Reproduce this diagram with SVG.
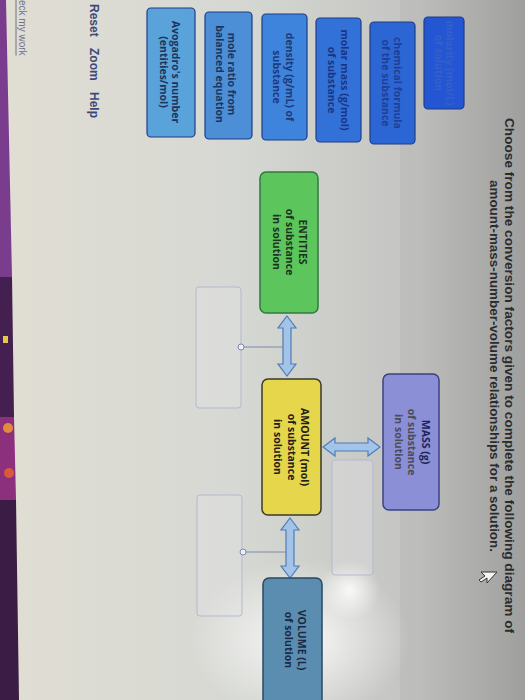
<svg xmlns="http://www.w3.org/2000/svg" width="525" height="700" viewBox="0 0 525 700">
<defs>
<linearGradient id="bg" x1="0" y1="0" x2="1" y2="0">
<stop offset="0" stop-color="#e1ded3"/>
<stop offset="0.45" stop-color="#d6d8d3"/>
<stop offset="0.8" stop-color="#c3c4c1"/>
<stop offset="1" stop-color="#a0a19f"/>
</linearGradient>
<radialGradient id="glare" cx="0.5" cy="0.5" r="0.5">
<stop offset="0" stop-color="#ffffff" stop-opacity="0.85"/>
<stop offset="1" stop-color="#ffffff" stop-opacity="0"/>
</radialGradient>
<style>
.ui{font-family:"Liberation Sans",Arial,sans-serif}
.title{font-family:"Liberation Sans",Arial,sans-serif;font-weight:700;font-size:12.5px;fill:#2a2c30}
.fac rect{stroke:#1f3c86;stroke-width:1.2}
.fac text{font-family:"Open Sans","Liberation Sans",sans-serif;font-weight:700;font-size:10.5px;text-anchor:middle;dominant-baseline:central}
.node text{font-family:"Open Sans","Liberation Sans",sans-serif;font-weight:700;font-size:10.5px;text-anchor:middle;dominant-baseline:central}
.node rect{stroke-width:1.5}
.drop{fill:#e4e6e8;fill-opacity:0.3;stroke:#b3b9cf;stroke-width:1}
.arrow{fill:#a3c4e8;stroke:#4f7db6;stroke-width:1.2}
.conn{stroke:#7d89ad;stroke-width:1;fill:none}
.dot{fill:#eef0f4;stroke:#7d89ad;stroke-width:1}
</style>
</defs>
<rect width="525" height="700" fill="url(#bg)"/>
<rect x="400" y="0" width="125" height="700" fill="#9a9b99" opacity="0.15"/>
<ellipse cx="300" cy="640" rx="110" ry="80" fill="url(#glare)"/>
<ellipse cx="350" cy="590" rx="30" ry="30" fill="url(#glare)"/>

<!-- left purple edge -->
<g id="edge">
<polygon points="0,0 6,0 12,277 0,277" fill="#7a3c8c"/>
<polygon points="0,277 12,277 14,417 0,417" fill="#43204f"/>
<rect x="3" y="336" width="5" height="7" fill="#e8c84a"/>
<polygon points="0,417 14,417 16,500 0,500" fill="#8c2f7c"/>
<circle cx="8" cy="428" r="5" fill="#e38a3c"/>
<circle cx="9" cy="473" r="5" fill="#d95a3a"/>
<polygon points="0,500 16,500 19,700 0,700" fill="#3a1c44"/>
</g>

<g id="toolbar" class="ui">
<text transform="translate(22,0) rotate(90)" font-size="10" fill="#6b7290" text-decoration="underline" dominant-baseline="central">eck my work</text>
<text transform="translate(94,4) rotate(90)" font-size="12" font-weight="700" fill="#3b4a7c" dominant-baseline="central">Reset</text>
<text transform="translate(94,48) rotate(90)" font-size="12" font-weight="700" fill="#3b4a7c" dominant-baseline="central">Zoom</text>
<text transform="translate(94,92) rotate(90)" font-size="12" font-weight="700" fill="#3b4a7c" dominant-baseline="central">Help</text>
</g>

<g id="title">
<text class="title" transform="translate(509,118) rotate(90)" dominant-baseline="central" textLength="515" lengthAdjust="spacingAndGlyphs">Choose from the conversion factors given to complete the following diagram of</text>
<text class="title" transform="translate(494,180) rotate(90)" dominant-baseline="central" textLength="372" lengthAdjust="spacingAndGlyphs">amount-mass-number-volume relationships for a solution.</text>
<polygon points="497,572 481,572 485,576 479,580 481,582 487,578 487,583" fill="#f4f4f4" stroke="#333" stroke-width="1"/>
</g>

<!-- conversion factor tiles -->
<g id="f-molarity" class="fac">
<rect x="424" y="17" width="40" height="92" rx="4" fill="#2456d4"/>
<text transform="translate(450,63) rotate(90)" fill="#3460c8">molarity (mol/L)</text>
<text transform="translate(439,63) rotate(90)" fill="#3460c8">of solution</text>
</g>
<g id="f-formula" class="fac">
<rect x="370" y="22" width="45" height="122" rx="4" fill="#2c66d4"/>
<text transform="translate(398,83) rotate(90)" fill="#1f3f98">chemical formula</text>
<text transform="translate(386,83) rotate(90)" fill="#1f3f98">of the substance</text>
</g>
<g id="f-molarmass" class="fac">
<rect x="316" y="18" width="45" height="124" rx="4" fill="#3272d8"/>
<text transform="translate(345,80) rotate(90)" fill="#1b3584">molar mass (g/mol)</text>
<text transform="translate(332,80) rotate(90)" fill="#1b3584">of substance</text>
</g>
<g id="f-density" class="fac">
<rect x="262" y="14" width="45" height="126" rx="4" fill="#3e84dc"/>
<text transform="translate(290,77) rotate(90)" fill="#1d3a7a" font-size="12">density (g/mL) of</text>
<text transform="translate(277,77) rotate(90)" fill="#1d3a7a" font-size="12">substance</text>
</g>
<g id="f-moleratio" class="fac">
<rect x="205" y="12" width="47" height="127" rx="4" fill="#4c8fd6"/>
<text transform="translate(232,74) rotate(90)" fill="#1d3460">mole ratio from</text>
<text transform="translate(220,74) rotate(90)" fill="#1d3460">balanced equation</text>
</g>
<g id="f-avogadro" class="fac">
<rect x="147" y="8" width="48" height="129" rx="4" fill="#5aa2da"/>
<text transform="translate(176,72) rotate(90)" fill="#1d3460">Avogadro's number</text>
<text transform="translate(164,72) rotate(90)" fill="#1d3460">(entities/mol)</text>
</g>

<!-- drop targets -->
<g id="drop-1"><rect class="drop" x="196" y="287" width="45" height="121" rx="3"/></g>
<g id="drop-2"><rect class="drop" x="197" y="495" width="45" height="121" rx="3"/></g>
<g id="drop-3"><rect class="drop" x="332" y="460" width="41" height="115" rx="3"/></g>

<!-- connectors -->
<g id="connectors">
<path class="arrow" d="M287,316 L296,328 L291,328 L291,364 L296,364 L287,376 L278,364 L283,364 L283,328 L278,328 Z"/>
<path class="arrow" d="M290,518 L299,530 L294,530 L294,566 L299,566 L290,578 L281,566 L286,566 L286,530 L281,530 Z"/>
<path class="arrow" d="M323,447 L335,438 L335,443 L368,443 L368,438 L380,447 L368,456 L368,451 L335,451 L335,456 Z"/>
<line class="conn" x1="244" y1="347" x2="283" y2="347"/>
<circle class="dot" cx="241" cy="347" r="3"/>
<line class="conn" x1="246" y1="552" x2="286" y2="552"/>
<circle class="dot" cx="243" cy="552" r="3"/>
</g>

<!-- main nodes -->
<g id="entities" class="node">
<rect x="260" y="172" width="58" height="141" rx="6" fill="#5cc65c" stroke="#2f7a40"/>
<text transform="translate(303,242) rotate(90)" fill="#1b3320">ENTITIES</text>
<text transform="translate(290,242) rotate(90)" fill="#1b3320">of substance</text>
<text transform="translate(277,242) rotate(90)" fill="#1b3320">in solution</text>
</g>
<g id="amount" class="node">
<rect x="262" y="379" width="59" height="136" rx="6" fill="#e6d64c" stroke="#3b3a28"/>
<text transform="translate(305,447) rotate(90)" fill="#222014">AMOUNT (mol)</text>
<text transform="translate(292,447) rotate(90)" fill="#222014">of substance</text>
<text transform="translate(278,447) rotate(90)" fill="#222014">in solution</text>
</g>
<g id="mass" class="node">
<rect x="383" y="374" width="56" height="136" rx="6" fill="#8a8fd6" stroke="#3b4282"/>
<text transform="translate(426,442) rotate(90)" fill="#1e2456">MASS (g)</text>
<text transform="translate(412,442) rotate(90)" fill="#4a4c58">of substance</text>
<text transform="translate(399,442) rotate(90)" fill="#4a4c58">in solution</text>
</g>
<g id="volume" class="node">
<rect x="263" y="578" width="59" height="140" rx="6" fill="#5b8db0" stroke="#2b4a62"/>
<text transform="translate(302,640) rotate(90)" fill="#1a2a44">VOLUME (L)</text>
<text transform="translate(289,640) rotate(90)" fill="#1a2a44">of solution</text>
</g>
</svg>
